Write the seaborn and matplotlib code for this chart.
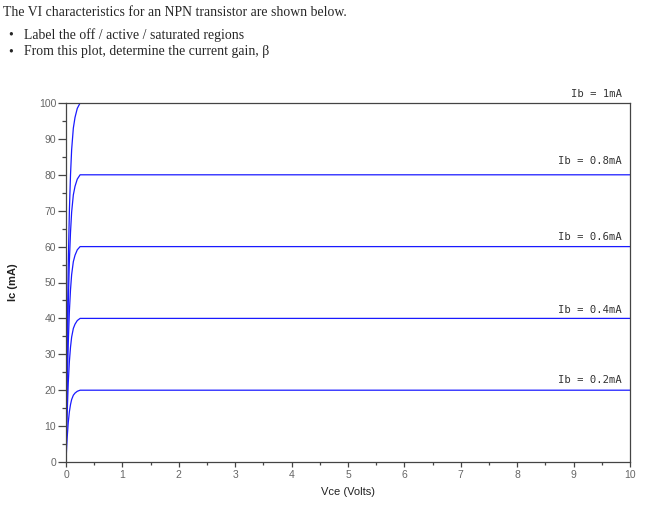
"""NPN transistor VI characteristics (Ic vs Vce for several base currents)."""

import matplotlib
matplotlib.use("Agg")
import matplotlib.pyplot as plt
import numpy as np
import pandas as pd
import seaborn as sns
from matplotlib.ticker import MultipleLocator

# Base currents and the flat collector current each curve settles at
ib_labels = ["Ib = 0.2mA", "Ib = 0.4mA", "Ib = 0.6mA", "Ib = 0.8mA", "Ib = 1mA"]
ic_flat = [20, 40, 60, 80, 100]

# Knee shape: Vce (V) and fraction of the flat current
vce_pts = [0, 0.01, 0.02, 0.04, 0.06, 0.08, 0.10, 0.13, 0.16, 0.20, 0.25, 10]
knee_frac = [0, 0.18, 0.33, 0.55, 0.70, 0.80, 0.87, 0.93, 0.96, 0.985, 1.0, 1.0]

header = "The VI characteristics for an NPN transistor are shown below."
bullets = [
    "Label the off / active / saturated regions",
    "From this plot, determine the current gain, \u03b2",
]

rows = []
for label, flat in zip(ib_labels, ic_flat):
    for v, f in zip(vce_pts, knee_frac):
        rows.append({"Vce": v, "Ic": flat * f, "Ib": label})
df = pd.DataFrame(rows)

sns.set_style("white")
plt.rcParams["font.family"] = ["Liberation Sans", "DejaVu Sans"]

fig = plt.figure(figsize=(6.71, 5.13), dpi=100)
ax = fig.add_axes([66 / 671, 1 - 462 / 513, (630 - 66) / 671, (462 - 103) / 513])

for label in ib_labels:
    sns.lineplot(
        data=df[df["Ib"] == label], x="Vce", y="Ic",
        color="#1a1aff", linewidth=0.9, ax=ax, legend=False,
    )

# curve labels, sitting just above each flat line near the right edge
label_lift = [2.8, 2.4, 2.8, 3.9, 2.6]
for label, flat, lift in zip(ib_labels, ic_flat, label_lift):
    ax.text(9.86, flat + lift, label, ha="right", va="center",
            family="DejaVu Sans Mono", fontsize=7.6, color="#333333",
            clip_on=False)

ax.set_xlim(0, 10)
ax.set_ylim(0, 100)
ax.xaxis.set_major_locator(MultipleLocator(1))
ax.xaxis.set_minor_locator(MultipleLocator(0.5))
ax.yaxis.set_major_locator(MultipleLocator(10))
ax.yaxis.set_minor_locator(MultipleLocator(5))

for side in ["left", "bottom", "top", "right"]:
    ax.spines[side].set_color("#444444")
    ax.spines[side].set_linewidth(0.9)

ax.tick_params(axis="y", which="major", direction="out", length=5.5,
               width=0.9, color="#444444", labelsize=7.5, labelcolor="#666666",
               left=True, pad=1.5)
ax.tick_params(axis="y", which="minor", direction="out", length=3,
               width=0.9, color="#444444", left=True)
ax.tick_params(axis="x", which="major", direction="out", length=3.5,
               width=0.9, color="#444444", labelsize=7.5, labelcolor="#666666",
               bottom=True, pad=2.5)
ax.tick_params(axis="x", which="minor", direction="out", length=2,
               width=0.9, color="#444444", bottom=True)

ax.set_xlabel("Vce (Volts)", fontsize=8, color="#222222", labelpad=5)
ax.set_ylabel("Ic (mA)", fontsize=8, color="#222222", fontweight="bold",
              labelpad=15)

# header text above the chart
serif = ["Liberation Serif", "DejaVu Serif"]
fig.text(3 / 671, 1 - 13 / 513, header, family=serif, fontsize=9.9,
         va="center", ha="left")
for i, b in enumerate(bullets):
    y = 1 - (35 + 17 * i) / 513
    fig.text(8 / 671, y, "\u2022", family=serif, fontsize=9.9,
             va="center", ha="left")
    fig.text(24 / 671, y, b, family=serif, fontsize=9.9, va="center",
             ha="left")

fig.savefig("out.png", dpi=100)
